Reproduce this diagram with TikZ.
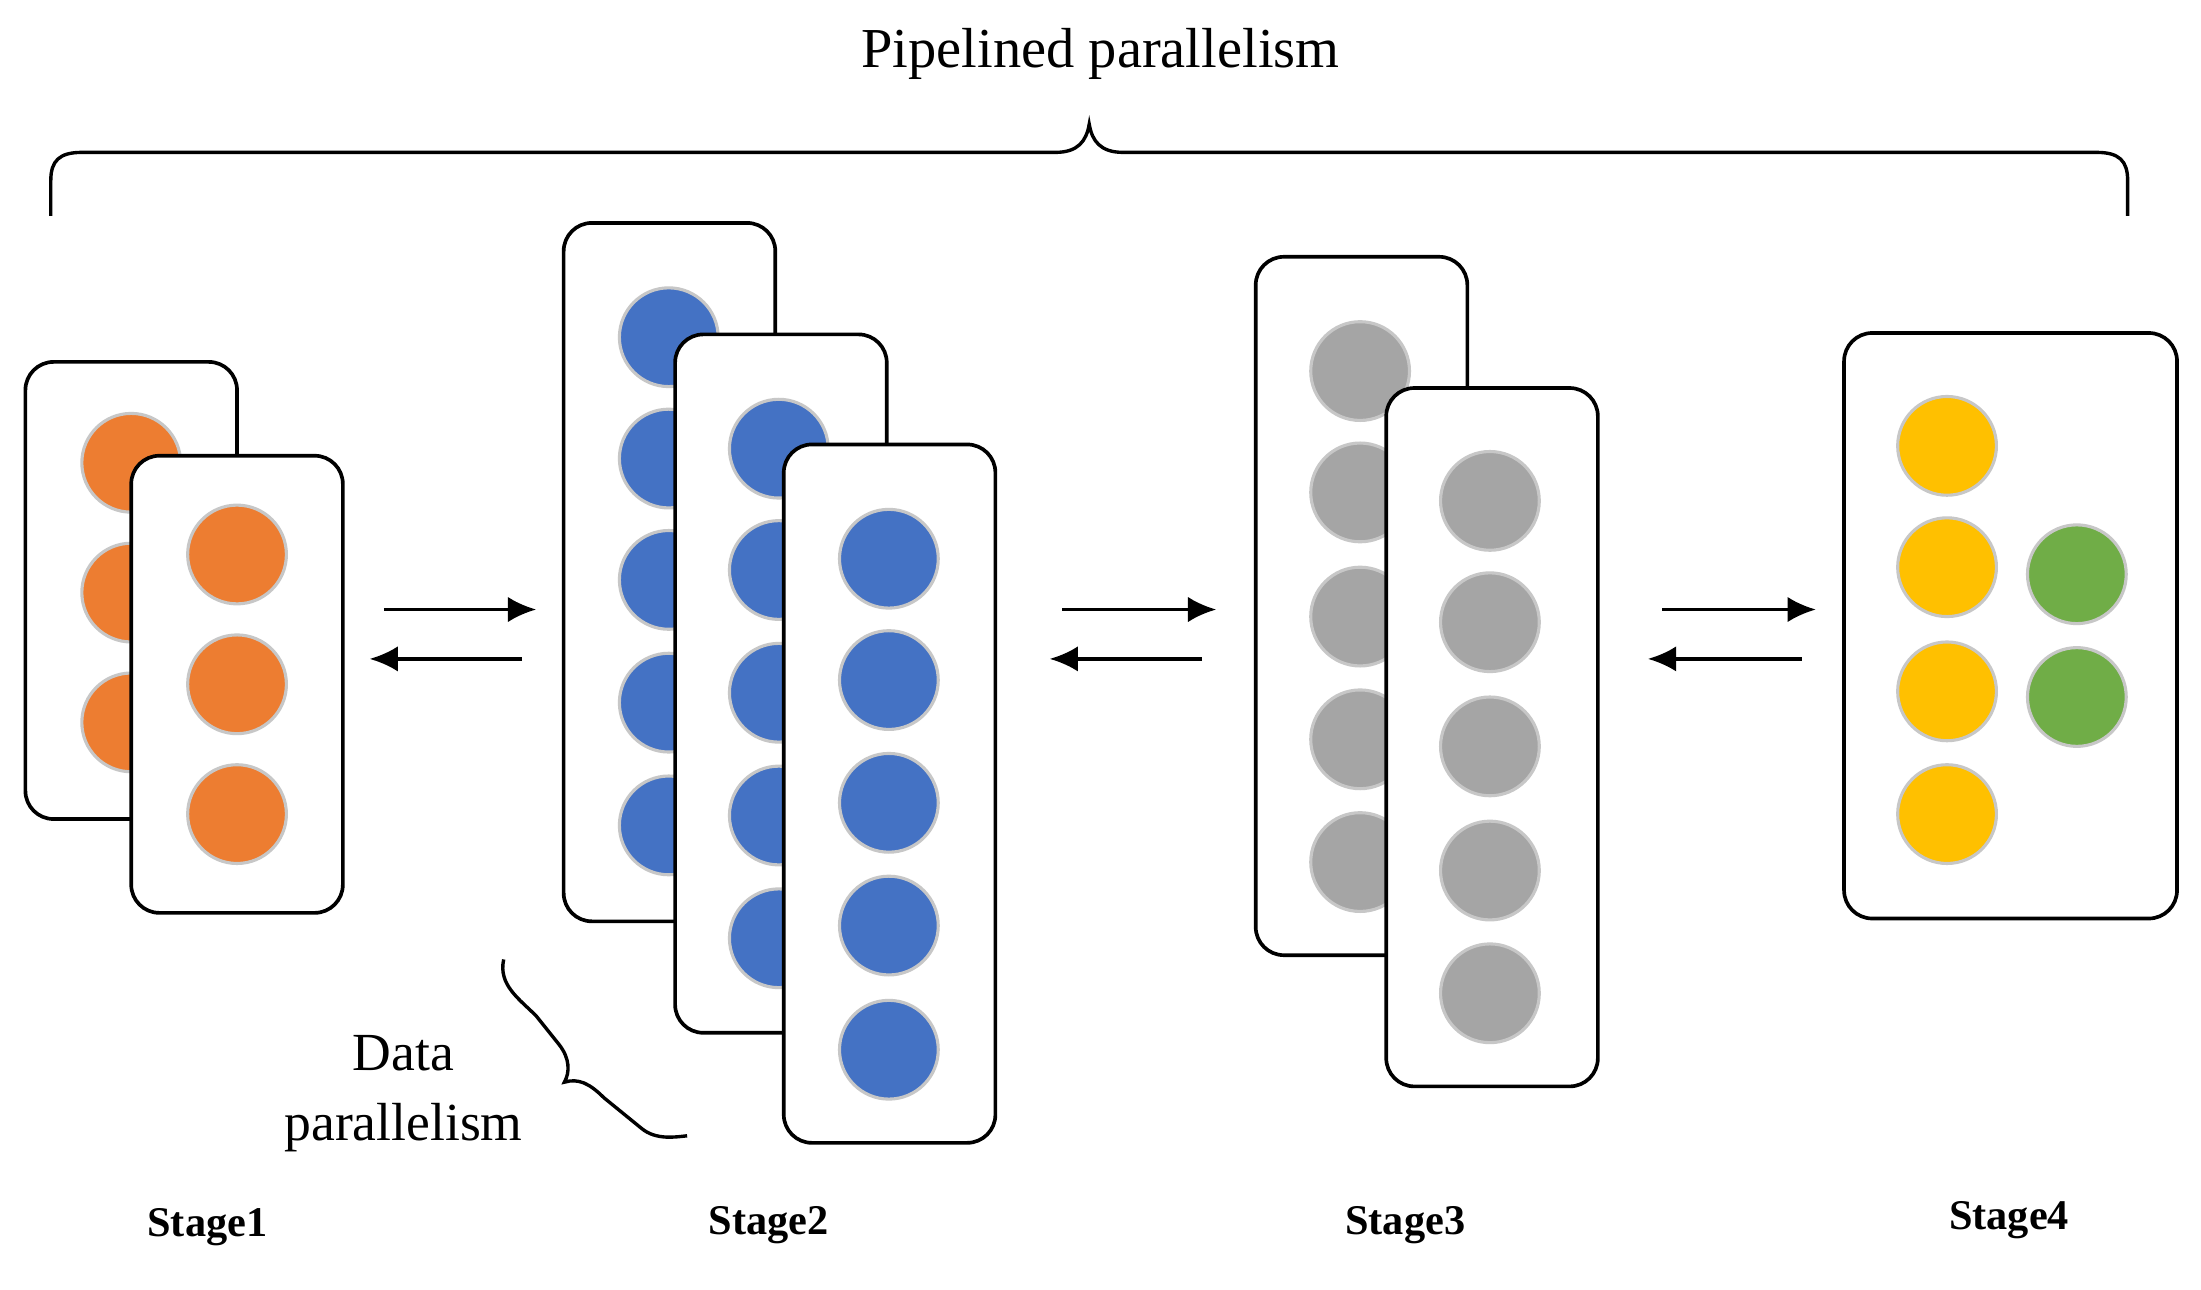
\documentclass[tikz,border=0pt]{standalone}
\usepackage{fontspec}
\setmainfont{Liberation Serif}
\usetikzlibrary{arrows.meta}
\begin{document}
\begin{tikzpicture}[x=1pt,y=-1pt,
 box/.style={draw=black,line width=2.6pt,fill=white,rounded corners=20pt,minimum width=150pt,inner sep=0pt},
 dot/.style={circle,draw=black!22,line width=2.2pt,minimum size=70pt,inner sep=0pt},
 org/.style={dot,fill={rgb,255:red,237;green,125;blue,49}},
 blu/.style={dot,fill={rgb,255:red,68;green,114;blue,196}},
 gry/.style={dot,fill={rgb,255:red,165;green,165;blue,165}},
 yel/.style={dot,fill={rgb,255:red,255;green,192;blue,0}},
 grn/.style={dot,fill={rgb,255:red,112;green,173;blue,71}},
 arr/.style={line width=2.4pt,-{Latex[length=20pt,width=18pt]}},
 brc/.style={line width=2.4pt},
 lbl/.style={font=\bfseries\fontsize{30}{34}\selectfont}]
\useasboundingbox (0,0) rectangle (1560,914);
% top brace
\draw[brc] (36,153) -- (36,128) .. controls (36,114) and (42,108) .. (58,108) -- (748,108) .. controls (764,108) and (770,100) .. (772,88) .. controls (774,100) and (780,108) .. (796,108) -- (1486,108) .. controls (1502,108) and (1508,114) .. (1508,128) -- (1508,153);
\node[font=\fontsize{40}{46}\selectfont] (pp) at (780,38) {Pipelined parallelism};
% Stage 1
\node[box,minimum height=324pt] (s1a) at (93,418.5) {};
\foreach \y/\n in {328/1,420/2,512/3} \node[org] (s1a\n) at (93,\y) {};
\node[box,minimum height=324pt] (s1b) at (168,485) {};
\foreach \y/\n in {393/1,485/2,577/3} \node[org] (s1b\n) at (168,\y) {};
% Stage 2
\node[box,minimum height=495pt] (s2a) at (474.5,405.5) {};
\foreach \y/\n in {239/1,325/2,411/3,498/4,585/5} \node[blu] (s2a\n) at (474,\y) {};
\node[box,minimum height=495pt] (s2b) at (553.5,484.5) {};
\foreach \y/\n in {318/1,404/2,491/3,578/4,665/5} \node[blu] (s2b\n) at (552,\y) {};
\node[box,minimum height=495pt] (s2c) at (630.5,562.5) {};
\foreach \y/\n in {396/1,482/2,569/3,656/4,744/5} \node[blu] (s2c\n) at (630,\y) {};
% Stage 3
\node[box,minimum height=495pt] (s3a) at (965,429.5) {};
\foreach \y/\n in {263/1,349/2,437/3,524/4,611/5} \node[gry] (s3a\n) at (964,\y) {};
\node[box,minimum height=495pt] (s3b) at (1057.5,522.5) {};
\foreach \y/\n in {355/1,441/2,529/3,617/4,704/5} \node[gry] (s3b\n) at (1056,\y) {};
% Stage 4
\node[box,minimum width=236pt,minimum height=415pt] (s4) at (1425,443.5) {};
\foreach \y/\n in {316/1,402/2,490/3,577/4} \node[yel] (s4y\n) at (1380,\y) {};
\foreach \y/\n in {407/1,494/2} \node[grn] (s4g\n) at (1472,\y) {};
% arrows
\coordinate (a1) at (272,432); \coordinate (a2) at (380,432);
\coordinate (b1) at (370,467); \coordinate (b2) at (262,467);
\coordinate (c1) at (753,432); \coordinate (c2) at (862,432);
\coordinate (d1) at (852,467); \coordinate (d2) at (744,467);
\coordinate (e1) at (1178,432); \coordinate (e2) at (1287,432);
\coordinate (f1) at (1277,467); \coordinate (f2) at (1168,467);
\draw[arr] (a1) -- (a2); \draw[arr] (b1) -- (b2);
\draw[arr] (c1) -- (c2); \draw[arr] (d1) -- (d2);
\draw[arr] (e1) -- (e2); \draw[arr] (f1) -- (f2);
% data brace
\draw[brc] (357,680) .. controls (353,698) and (368,708) .. (380,720) -- (396,740) .. controls (404,750) and (404,760) .. (400,767) .. controls (410,764) and (418,768) .. (428,778) -- (455,800) .. controls (465,808) and (478,806) .. (487,805);
\node[font=\fontsize{38}{50}\selectfont,align=center] (dp) at (286,775) {Data\\parallelism};
% labels
\node[lbl] (l1) at (147,870) {Stage1};
\node[lbl] (l2) at (545,868) {Stage2};
\node[lbl] (l3) at (996,868) {Stage3};
\node[lbl] (l4) at (1424,865) {Stage4};
\end{tikzpicture}
\end{document}
